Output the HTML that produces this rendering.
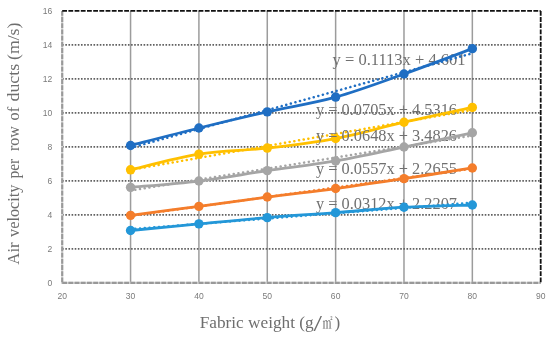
<!DOCTYPE html><html><head><meta charset="utf-8"><title>chart</title><style>html,body{margin:0;padding:0;background:#fff}svg{display:block}</style></head><body>
<svg width="550" height="337" viewBox="0 0 550 337">
<rect width="550" height="337" fill="#fff"/>
<line x1="130.56" y1="10.90" x2="130.56" y2="282.85" stroke="#9c9c9c" stroke-width="1.5"/>
<line x1="198.91" y1="10.90" x2="198.91" y2="282.85" stroke="#9c9c9c" stroke-width="1.5"/>
<line x1="267.27" y1="10.90" x2="267.27" y2="282.85" stroke="#9c9c9c" stroke-width="1.5"/>
<line x1="335.63" y1="10.90" x2="335.63" y2="282.85" stroke="#9c9c9c" stroke-width="1.5"/>
<line x1="403.99" y1="10.90" x2="403.99" y2="282.85" stroke="#9c9c9c" stroke-width="1.5"/>
<line x1="472.34" y1="10.90" x2="472.34" y2="282.85" stroke="#9c9c9c" stroke-width="1.5"/>
<line x1="62.20" y1="248.86" x2="540.70" y2="248.86" stroke="#606060" stroke-width="1.7" stroke-dasharray="1.6 1.53"/>
<line x1="62.20" y1="214.86" x2="540.70" y2="214.86" stroke="#606060" stroke-width="1.7" stroke-dasharray="1.6 1.53"/>
<line x1="62.20" y1="180.87" x2="540.70" y2="180.87" stroke="#606060" stroke-width="1.7" stroke-dasharray="1.6 1.53"/>
<line x1="62.20" y1="146.88" x2="540.70" y2="146.88" stroke="#606060" stroke-width="1.7" stroke-dasharray="1.6 1.53"/>
<line x1="62.20" y1="112.88" x2="540.70" y2="112.88" stroke="#606060" stroke-width="1.7" stroke-dasharray="1.6 1.53"/>
<line x1="62.20" y1="78.89" x2="540.70" y2="78.89" stroke="#606060" stroke-width="1.7" stroke-dasharray="1.6 1.53"/>
<line x1="62.20" y1="44.89" x2="540.70" y2="44.89" stroke="#606060" stroke-width="1.7" stroke-dasharray="1.6 1.53"/>
<polyline points="62.20,10.90 62.20,282.85 540.70,282.85" fill="none" stroke="#d4d4d4" stroke-width="2.1"/>
<line x1="62.20" y1="10.90" x2="62.20" y2="282.85" stroke="#999" stroke-width="2.1" stroke-dasharray="4.8 1.4"/>
<line x1="62.20" y1="282.85" x2="540.70" y2="282.85" stroke="#999" stroke-width="2.1" stroke-dasharray="4.8 1.4"/>
<line x1="62.20" y1="10.90" x2="540.70" y2="10.90" stroke="#111" stroke-width="1.8" stroke-dasharray="4.8 1.4"/>
<line x1="540.70" y1="10.90" x2="540.70" y2="282.85" stroke="#111" stroke-width="1.8" stroke-dasharray="4.8 1.4"/>
<text x="332.6" y="65.4" textLength="133" lengthAdjust="spacingAndGlyphs" font-family="'Liberation Serif', serif" font-size="16.4" fill="#707070">y = 0.1113x + 4.601</text>
<line x1="130.56" y1="147.89" x2="472.34" y2="53.31" stroke="#1f6ec3" stroke-width="2.5" stroke-dasharray="0.1 4.65" stroke-linecap="round"/>
<path d="M130.56,145.52 C141.95,142.60 176.13,133.62 198.91,128.01 C221.70,122.40 244.49,117.02 267.27,111.86 C290.06,106.71 312.84,103.39 335.63,97.07 C358.41,90.76 381.20,82.03 403.99,73.96 C426.77,65.88 460.95,52.85 472.34,48.63" fill="none" stroke="#1f6ec3" stroke-width="2.8" stroke-linejoin="round" stroke-linecap="round"/>
<circle cx="130.56" cy="145.52" r="4.7" fill="#1f6ec3"/>
<circle cx="198.91" cy="128.01" r="4.7" fill="#1f6ec3"/>
<circle cx="267.27" cy="111.86" r="4.7" fill="#1f6ec3"/>
<circle cx="335.63" cy="97.07" r="4.7" fill="#1f6ec3"/>
<circle cx="403.99" cy="73.96" r="4.7" fill="#1f6ec3"/>
<circle cx="472.34" cy="48.63" r="4.7" fill="#1f6ec3"/>
<text x="316" y="114.7" textLength="141" lengthAdjust="spacingAndGlyphs" font-family="'Liberation Serif', serif" font-size="16.4" fill="#707070">y = 0.0705x + 4.5316</text>
<line x1="130.56" y1="169.88" x2="472.34" y2="109.96" stroke="#ffc000" stroke-width="2.5" stroke-dasharray="0.1 4.65" stroke-linecap="round"/>
<path d="M130.56,169.82 C141.95,167.21 176.13,157.81 198.91,154.18 C221.70,150.56 244.49,150.67 267.27,148.06 C290.06,145.46 312.84,142.85 335.63,138.55 C358.41,134.24 381.20,127.41 403.99,122.23 C426.77,117.05 460.95,109.91 472.34,107.44" fill="none" stroke="#ffc000" stroke-width="2.8" stroke-linejoin="round" stroke-linecap="round"/>
<circle cx="130.56" cy="169.82" r="4.7" fill="#ffc000"/>
<circle cx="198.91" cy="154.18" r="4.7" fill="#ffc000"/>
<circle cx="267.27" cy="148.06" r="4.7" fill="#ffc000"/>
<circle cx="335.63" cy="138.55" r="4.7" fill="#ffc000"/>
<circle cx="403.99" cy="122.23" r="4.7" fill="#ffc000"/>
<circle cx="472.34" cy="107.44" r="4.7" fill="#ffc000"/>
<text x="316" y="140.9" textLength="141" lengthAdjust="spacingAndGlyphs" font-family="'Liberation Serif', serif" font-size="16.4" fill="#707070">y = 0.0648x + 3.4826</text>
<line x1="130.56" y1="190.61" x2="472.34" y2="135.54" stroke="#a5a5a5" stroke-width="2.5" stroke-dasharray="0.1 4.65" stroke-linecap="round"/>
<path d="M130.56,187.33 C141.95,186.28 176.13,183.81 198.91,181.04 C221.70,178.26 244.49,174.01 267.27,170.67 C290.06,167.33 312.84,164.92 335.63,160.98 C358.41,157.04 381.20,151.75 403.99,147.04 C426.77,142.34 460.95,135.15 472.34,132.77" fill="none" stroke="#a5a5a5" stroke-width="2.8" stroke-linejoin="round" stroke-linecap="round"/>
<circle cx="130.56" cy="187.33" r="4.7" fill="#a5a5a5"/>
<circle cx="198.91" cy="181.04" r="4.7" fill="#a5a5a5"/>
<circle cx="267.27" cy="170.67" r="4.7" fill="#a5a5a5"/>
<circle cx="335.63" cy="160.98" r="4.7" fill="#a5a5a5"/>
<circle cx="403.99" cy="147.04" r="4.7" fill="#a5a5a5"/>
<circle cx="472.34" cy="132.77" r="4.7" fill="#a5a5a5"/>
<text x="316" y="174.4" textLength="141" lengthAdjust="spacingAndGlyphs" font-family="'Liberation Serif', serif" font-size="16.4" fill="#707070">y = 0.0557x + 2.2655</text>
<line x1="130.56" y1="215.94" x2="472.34" y2="168.61" stroke="#f47d2b" stroke-width="2.5" stroke-dasharray="0.1 4.65" stroke-linecap="round"/>
<path d="M130.56,215.37 C141.95,213.87 176.13,209.42 198.91,206.36 C221.70,203.30 244.49,199.99 267.27,197.02 C290.06,194.04 312.84,191.58 335.63,188.52 C358.41,185.46 381.20,182.09 403.99,178.66 C426.77,175.23 460.95,169.74 472.34,167.95" fill="none" stroke="#f47d2b" stroke-width="2.8" stroke-linejoin="round" stroke-linecap="round"/>
<circle cx="130.56" cy="215.37" r="4.7" fill="#f47d2b"/>
<circle cx="198.91" cy="206.36" r="4.7" fill="#f47d2b"/>
<circle cx="267.27" cy="197.02" r="4.7" fill="#f47d2b"/>
<circle cx="335.63" cy="188.52" r="4.7" fill="#f47d2b"/>
<circle cx="403.99" cy="178.66" r="4.7" fill="#f47d2b"/>
<circle cx="472.34" cy="167.95" r="4.7" fill="#f47d2b"/>
<text x="316" y="208.7" textLength="141" lengthAdjust="spacingAndGlyphs" font-family="'Liberation Serif', serif" font-size="16.4" fill="#707070">y = 0.0312x + 2.2207</text>
<line x1="130.56" y1="229.20" x2="472.34" y2="202.68" stroke="#2397d8" stroke-width="2.5" stroke-dasharray="0.1 4.65" stroke-linecap="round"/>
<path d="M130.56,230.50 C141.95,229.39 176.13,226.02 198.91,223.87 C221.70,221.72 244.49,219.45 267.27,217.58 C290.06,215.71 312.84,214.38 335.63,212.65 C358.41,210.92 381.20,208.49 403.99,207.21 C426.77,205.94 460.95,205.37 472.34,205.00" fill="none" stroke="#2397d8" stroke-width="2.8" stroke-linejoin="round" stroke-linecap="round"/>
<circle cx="130.56" cy="230.50" r="4.7" fill="#2397d8"/>
<circle cx="198.91" cy="223.87" r="4.7" fill="#2397d8"/>
<circle cx="267.27" cy="217.58" r="4.7" fill="#2397d8"/>
<circle cx="335.63" cy="212.65" r="4.7" fill="#2397d8"/>
<circle cx="403.99" cy="207.21" r="4.7" fill="#2397d8"/>
<circle cx="472.34" cy="205.00" r="4.7" fill="#2397d8"/>
<g font-family="'Liberation Sans', sans-serif" font-size="9.2" fill="#7a7a7a">
<text transform="translate(52.2,285.85) scale(0.93,1)" text-anchor="end">0</text>
<text transform="translate(52.2,251.86) scale(0.93,1)" text-anchor="end">2</text>
<text transform="translate(52.2,217.86) scale(0.93,1)" text-anchor="end">4</text>
<text transform="translate(52.2,183.87) scale(0.93,1)" text-anchor="end">6</text>
<text transform="translate(52.2,149.88) scale(0.93,1)" text-anchor="end">8</text>
<text transform="translate(52.2,115.88) scale(0.93,1)" text-anchor="end">10</text>
<text transform="translate(52.2,81.89) scale(0.93,1)" text-anchor="end">12</text>
<text transform="translate(52.2,47.89) scale(0.93,1)" text-anchor="end">14</text>
<text transform="translate(52.2,13.90) scale(0.93,1)" text-anchor="end">16</text>
<text transform="translate(62.20,299.1) scale(0.93,1)" text-anchor="middle">20</text>
<text transform="translate(130.56,299.1) scale(0.93,1)" text-anchor="middle">30</text>
<text transform="translate(198.91,299.1) scale(0.93,1)" text-anchor="middle">40</text>
<text transform="translate(267.27,299.1) scale(0.93,1)" text-anchor="middle">50</text>
<text transform="translate(335.63,299.1) scale(0.93,1)" text-anchor="middle">60</text>
<text transform="translate(403.99,299.1) scale(0.93,1)" text-anchor="middle">70</text>
<text transform="translate(472.34,299.1) scale(0.93,1)" text-anchor="middle">80</text>
<text transform="translate(540.70,299.1) scale(0.93,1)" text-anchor="middle">90</text>
</g>
<g font-family="'Liberation Serif', 'Noto Sans CJK SC', serif" font-size="17" fill="#6e6e6e">
<text x="199.7" y="328.2" textLength="114" lengthAdjust="spacingAndGlyphs">Fabric weight (g</text>
<text transform="translate(313.4,331) scale(1.8,1.33)">/</text>
<text transform="translate(322.6,328.2) scale(0.8,1.1)" font-family="'Noto Serif CJK SC', 'Noto Sans CJK SC', serif" font-size="12.5" font-weight="500">㎡</text>
<text x="334.6" y="328.2">)</text>
<text transform="translate(19.1,264.7) rotate(-90)" textLength="22.4" lengthAdjust="spacingAndGlyphs">Air</text>
<text transform="translate(19.1,236.9) rotate(-90)" textLength="52.2" lengthAdjust="spacingAndGlyphs">velocity</text>
<text transform="translate(19.1,178.6) rotate(-90)" textLength="19.9" lengthAdjust="spacingAndGlyphs">per</text>
<text transform="translate(19.1,151.0) rotate(-90)" textLength="24.9" lengthAdjust="spacingAndGlyphs">row</text>
<text transform="translate(19.1,120.4) rotate(-90)" textLength="13.6" lengthAdjust="spacingAndGlyphs">of</text>
<text transform="translate(19.1,101.5) rotate(-90)" textLength="37.7" lengthAdjust="spacingAndGlyphs">ducts</text>
<text transform="translate(19.1,59.9) rotate(-90)" textLength="37.2" lengthAdjust="spacingAndGlyphs">(m/s)</text>
</g>
</svg></body></html>
